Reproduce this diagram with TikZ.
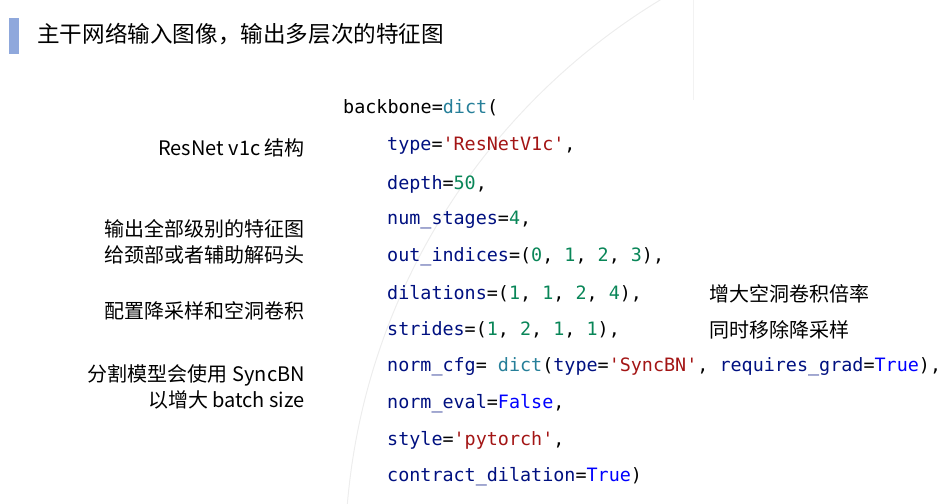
\documentclass[tikz,border=0pt]{standalone}
\usepackage{fontspec}
\setmonofont{DejaVu Sans Mono}
\newfontfamily\cjk{Noto Sans CJK SC}
\definecolor{kw}{HTML}{001080}
\definecolor{str}{HTML}{A31515}
\definecolor{num}{HTML}{098658}
\definecolor{fn}{HTML}{267F99}
\definecolor{bl}{HTML}{0000FF}
\definecolor{bar}{HTML}{8FA8DC}
\begin{document}
\begin{tikzpicture}[x=1pt,y=-1pt,
  code/.style={anchor=west,inner sep=0pt,font=\ttfamily\fontsize{18.4}{20}\selectfont},
  lab/.style={anchor=east,inner sep=0pt,font=\cjk\fontsize{20}{22}\selectfont,align=right},
  note/.style={anchor=west,inner sep=0pt,font=\cjk\fontsize{20}{22}\selectfont}]
\useasboundingbox (0,0) rectangle (952,503);
\begin{scope}
\clip (0,0) rectangle (952,503);
\draw[black!7,line width=1pt] (1000,560) circle[radius=655];
\end{scope}
\draw[black!5,line width=1pt] (693,0) -- (693,100);
\fill[bar] (9,18) rectangle (19,54);
\node[anchor=west,inner sep=0pt,font=\cjk\fontsize{22.6}{24}\selectfont] (title) at (37,34) {主干网络输入图像，输出多层次的特征图};
\node[code] (c1) at (343,108) {backbone=\textcolor{fn}{dict}(};
\node[code] (c2) at (387,146) {\textcolor{kw}{type}=\textcolor{str}{'ResNetV1c'},};
\node[code] (c3) at (387,184) {\textcolor{kw}{depth}=\textcolor{num}{50},};
\node[code] (c4) at (387,220) {\textcolor{kw}{num\_stages}=\textcolor{num}{4},};
\node[code] (c5) at (387,257) {\textcolor{kw}{out\_indices}=(\textcolor{num}{0}, \textcolor{num}{1}, \textcolor{num}{2}, \textcolor{num}{3}),};
\node[code] (c6) at (387,294) {\textcolor{kw}{dilations}=(\textcolor{num}{1}, \textcolor{num}{1}, \textcolor{num}{2}, \textcolor{num}{4}),};
\node[code] (c7) at (387,330) {\textcolor{kw}{strides}=(\textcolor{num}{1}, \textcolor{num}{2}, \textcolor{num}{1}, \textcolor{num}{1}),};
\node[code] (c8) at (387,367) {\textcolor{kw}{norm\_cfg}= \textcolor{fn}{dict}(\textcolor{kw}{type}=\textcolor{str}{'SyncBN'}, \textcolor{kw}{requires\_grad}=\textcolor{bl}{True}),};
\node[code] (c9) at (387,404) {\textcolor{kw}{norm\_eval}=\textcolor{bl}{False},};
\node[code] (c10) at (387,440) {\textcolor{kw}{style}=\textcolor{str}{'pytorch'},};
\node[code] (c11) at (387,477) {\textcolor{kw}{contract\_dilation}=\textcolor{bl}{True})};
\node[lab] (l1) at (305,148) {ResNet v1c 结构};
\node[lab] (l2) at (305,242) {输出全部级别的特征图\\[4pt]给颈部或者辅助解码头};
\node[lab] (l3) at (305,311) {配置降采样和空洞卷积};
\node[lab] (l4) at (305,387) {分割模型会使用 SyncBN\\[4pt]以增大 batch size};
\node[note] (n1) at (709,294) {增大空洞卷积倍率};
\node[note] (n2) at (709,330) {同时移除降采样};
\end{tikzpicture}
\end{document}
